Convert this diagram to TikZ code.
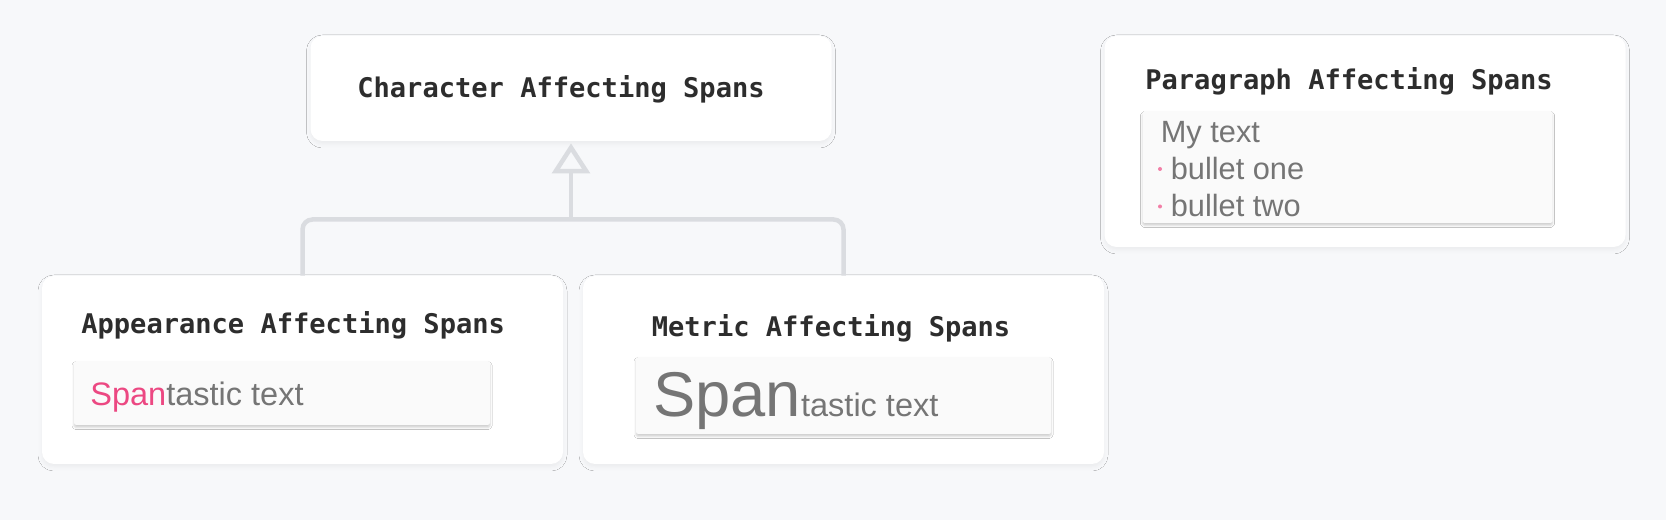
\documentclass[tikz,border=0pt]{standalone}
\usepackage{fontspec}
\setsansfont{Liberation Sans}
\setmonofont{DejaVu Sans Mono}
\usepackage{xcolor}
\usepackage{tikz}
\usetikzlibrary{arrows.meta,positioning,calc,shadows.blur}
\definecolor{canvas}{RGB}{247,248,250}
\definecolor{linegray}{RGB}{218,220,224}
\definecolor{headtext}{RGB}{45,45,45}
\definecolor{greytext}{RGB}{117,117,117}
\definecolor{spanpink}{RGB}{236,72,130}
\definecolor{samplebg}{RGB}{250,250,250}

\begin{document}
\begin{tikzpicture}[
  card/.style={fill=white, rounded corners=0.24cm, minimum width=10.42cm,
    blur shadow={shadow xshift=0pt, shadow yshift=-0.06cm,
      shadow opacity=5, shadow blur radius=0.08cm}},
  samplebox/.style={fill=samplebg, rounded corners=1pt,
    blur shadow={shadow xshift=0pt, shadow yshift=-0.05cm,
      shadow opacity=18, shadow blur radius=0.04cm}},
  cardtitle/.style={font=\ttfamily\bfseries\fontsize{15.4}{18}\selectfont,
    text=headtext, inner sep=0pt, anchor=base west},
  spantext/.style={font=\sffamily\fontsize{18.5}{22}\selectfont, text=greytext,
    inner sep=0pt, anchor=base west},
  paratext/.style={spantext, font=\sffamily\fontsize{17.5}{21}\selectfont},
  bullet/.style={circle, fill=spanpink!70, inner sep=0pt, minimum size=0.08cm},
  conn/.style={draw=linegray, line width=0.09cm},
]
  \useasboundingbox (0,0) rectangle (33.32,10.4);
  \fill[canvas] (0,0) rectangle (33.32,10.4);

  % Cards
  \node[card, minimum height=2.1cm] (char) at (11.42,8.63) {};
  \node[card, minimum height=4.22cm] (para) at (27.3,7.57) {};
  \node[card, minimum height=3.76cm] (app) at (6.05,3.0) {};
  \node[card, minimum height=3.76cm] (met) at (16.87,3.0) {};

  % Titles
  \node[cardtitle] (charlbl) at (7.14,8.44) {Character Affecting Spans};
  \node[cardtitle] (paralbl) at (22.9,8.6) {Paragraph Affecting Spans};
  \node[cardtitle] (applbl) at (1.62,3.72) {Appearance Affecting Spans};
  \node[cardtitle] (metlbl) at (13.03,3.66) {Metric Affecting Spans};

  % Sample boxes
  \node[samplebox, minimum width=8.2cm, minimum height=2.24cm] (parabox) at (26.95,7.06) {};
  \node[samplebox, minimum width=8.32cm, minimum height=1.28cm] (appbox) at (5.64,2.54) {};
  \node[samplebox, minimum width=8.3cm, minimum height=1.54cm] (metbox) at (16.87,2.49) {};

  % Sample texts
  \node[spantext] (apptxt) at (1.8,2.28) {\textcolor{spanpink}{Span}tastic text};
  \node[spantext] (mettxt) at (13.06,2.06)
    {{\fontsize{36}{40}\selectfont Span}tastic text};
  \node[paratext] (line1) at (23.21,7.55) {My text};
  \node[bullet] (dot1) at (23.2,7.02) {};
  \node[paratext] (line2) at (23.41,6.8) {bullet one};
  \node[bullet] (dot2) at (23.2,6.27) {};
  \node[paratext] (line3) at (23.41,6.07) {bullet two};

  % Inheritance connector
  \coordinate (join) at (char.south |- 0,6.01);
  \draw[conn, rounded corners=0.2cm] (app.north) |- (join) -| (met.north);
  \draw[conn, -{Triangle[open, length=0.6cm, width=0.75cm]}] (join) -- ([yshift=-0.04cm]char.south);
\end{tikzpicture}
\end{document}
